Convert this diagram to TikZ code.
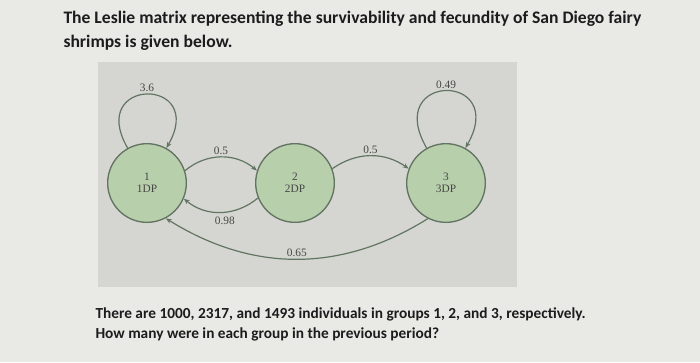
\documentclass[tikz,border=0pt]{standalone}
\usepackage{fontspec}
\setmainfont{Carlito}
\newfontfamily\diagfont{Liberation Serif}
\usetikzlibrary{arrows.meta}

\definecolor{pagegray}{RGB}{233,233,229}
\definecolor{panelgray}{RGB}{213,214,209}
\definecolor{stagefill}{RGB}{184,207,172}
\definecolor{stageline}{RGB}{98,116,98}
\definecolor{labelgray}{RGB}{70,70,68}
\definecolor{textdark}{RGB}{28,28,30}

\tikzset{every picture/.style={line width=0.75pt}}
\tikzset{
  stage/.style={circle, draw=stageline, fill=stagefill, line width=1pt, minimum size=59pt, inner sep=0pt, align=center, font=\diagfont\fontsize{8.5}{9}\selectfont, text=labelgray},
  trans/.style={draw=stageline, line width=0.9pt, -{Stealth[length=4.5pt,width=3.5pt]}},
  selfloop/.style={trans, out=-120, in=-60, distance=62pt},
  rate/.style={font=\diagfont\fontsize{8.5}{9}\selectfont, text=labelgray, inner sep=1.5pt}
}

\begin{document}
\begin{tikzpicture}[x=0.75pt,y=0.75pt,yscale=-1,xscale=1]
\useasboundingbox (0,0) rectangle (700,362);

%Background and panel
\fill[pagegray] (0,0) rectangle (700,362);
\fill[panelgray] (98,62) rectangle (517,287);

% Text Node
\node[anchor=base west, inner sep=0pt, align=left, font=\bfseries\fontsize{13.2}{17.5}\selectfont, text=textdark] (title) at (63,47) {The Leslie matrix representing the survivability and fecundity of San Diego fairy\\shrimps is given below.};

%Stages
\node[stage] (n1) at (147,183) {1\\1DP};
\node[stage] (n2) at (295,183) {2\\2DP};
\node[stage] (n3) at (446,183) {3\\3DP};

%Self loops (angles flipped by yscale=-1)
\draw[selfloop] (n1.119) to node[rate, above] {3.6} (n1.61);
\draw[selfloop, distance=66pt] (n3.119) to node[rate, above] {0.49} (n3.61);

%Transitions
\draw[trans] (n1.18) to[out=-40,in=-140] node[rate, above] {0.5} (n2.162);
\draw[trans] (n2.202) to[out=140,in=40] node[rate, below, pos=0.45, yshift=-2pt] {0.98} (n1.337);
\draw[trans] (n2.21) to[out=-35,in=-145] node[rate, above] {0.5} (n3.159);
\draw[trans] (n3.243) to[out=148,in=32] node[rate, above] {0.65} (n1.298);

% Text Node
\node[anchor=base west, inner sep=0pt, align=left, font=\bfseries\fontsize{11.5}{14.5}\selectfont, text=textdark] (question) at (95,338) {There are 1000, 2317, and 1493 individuals in groups 1, 2, and 3, respectively.\\How many were in each group in the previous period?};

\end{tikzpicture}
\end{document}
